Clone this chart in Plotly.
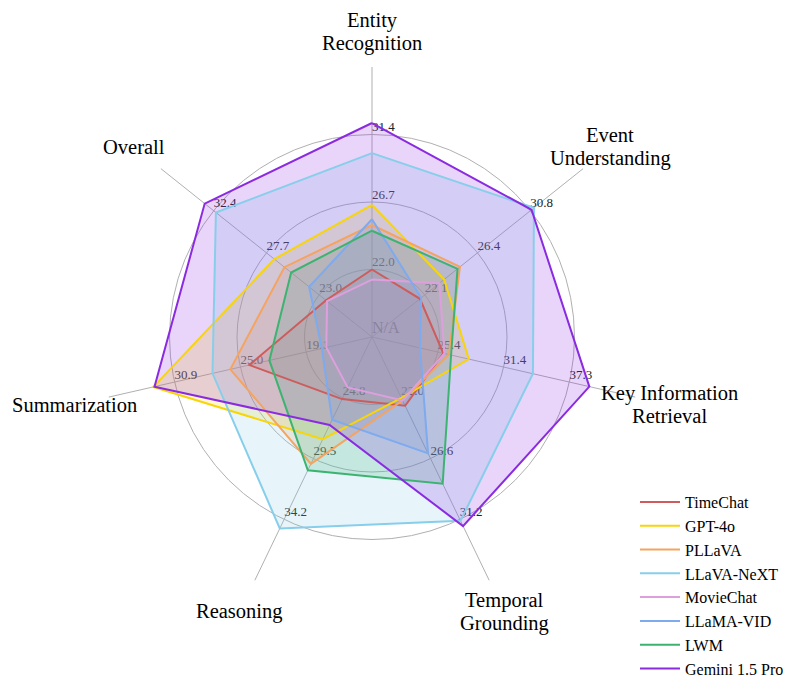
import math
import plotly.graph_objects as go

categories = ["Entity Recognition", "Event Understanding", "Key Information Retrieval",
              "Temporal Grounding", "Reasoning", "Summarization", "Overall"]
label_lines = [["Entity", "Recognition"], ["Event", "Understanding"], ["Key Information", "Retrieval"],
               ["Temporal", "Grounding"], ["Reasoning"], ["Summarization"], ["Overall"]]

# per-axis tick values (grid rings 1, 2, 3)
tick_er = [22.0, 26.7, 31.4]
tick_eu = [22.1, 26.4, 30.8]
tick_kir = [25.4, 31.4, 37.3]
tick_tg = [22.0, 26.6, 31.2]
tick_r = [24.8, 29.5, 34.2]
tick_s = [19.1, 25.0, 30.9]
tick_o = [23.0, 27.7, 32.4]
axis_ticks = [tick_er, tick_eu, tick_kir, tick_tg, tick_r, tick_s, tick_o]

models = ["TimeChat", "GPT-4o", "PLLaVA", "LLaVA-NeXT", "MovieChat", "LLaMA-VID", "LWM", "Gemini 1.5 Pro"]
timechat = [22.0, 21.7, 25.9, 22.6, 24.9, 24.2, 22.4]
gpt4o = [26.5, 23.7, 28.2, 22.0, 28.0, 32.8, 27.0]
pllava = [25.1, 25.0, 26.4, 22.2, 29.9, 25.9, 26.1]
llava_next = [30.1, 31.1, 34.0, 31.3, 34.9, 27.5, 32.2]
moviechat = [21.3, 23.3, 26.0, 22.2, 24.0, 17.3, 22.3]
llama_vid = [25.5, 21.8, 23.8, 26.2, 26.5, 17.7, 23.9]
lwm = [24.7, 24.8, 26.6, 28.5, 30.4, 22.4, 25.5]
gemini = [32.2, 30.9, 39.1, 31.7, 26.9, 32.7, 33.2]
series = [timechat, gpt4o, pllava, llava_next, moviechat, llama_vid, lwm, gemini]

colors = ["#CD5C5C", "#F8D508", "#F4A460", "#87CEEB", "#DDA0DD", "#7EAAEE", "#3CB371", "#8A2BE2"]

FONT = "Liberation Serif, Times New Roman, serif"


def to_r(vals):
    out = []
    for v, t in zip(vals, axis_ticks):
        step = (t[2] - t[0]) / 2.0
        v0 = t[0] - step
        out.append((v - v0) / step)
    return out


def rgba(hexc, a):
    h = hexc.lstrip("#")
    return "rgba(%d,%d,%d,%.2f)" % (int(h[0:2], 16), int(h[2:4], 16), int(h[4:6], 16), a)


fig = go.Figure()

# tick labels (drawn first, so fills sit above them)
tr, tt, tx = [], [], []
for cat, t in zip(categories, axis_ticks):
    for i, v in enumerate(t):
        tr.append(i + 1)
        tt.append(cat)
        tx.append("%.1f" % v)
fig.add_trace(go.Scatterpolar(r=tr, theta=tt, text=tx, mode="text", textposition="top right",
                              textfont=dict(family=FONT, size=13, color="#222"),
                              showlegend=False, hoverinfo="skip"))
fig.add_trace(go.Scatterpolar(r=[0], theta=[categories[0]], text=["N/A"], mode="text",
                              textposition="top right",
                              textfont=dict(family=FONT, size=16, color="#555"),
                              showlegend=False, hoverinfo="skip"))

# translucent fills first
for name, vals, c in zip(models, series, colors):
    r = to_r(vals)
    fig.add_trace(go.Scatterpolar(r=r, theta=categories, fill="toself", fillcolor=rgba(c, 0.2),
                                  mode="lines", line=dict(width=0, color=rgba(c, 0)),
                                  showlegend=False, hoverinfo="skip"))
# outlines on top
for name, vals, c in zip(models, series, colors):
    r = to_r(vals)
    fig.add_trace(go.Scatterpolar(r=r + [r[0]], theta=categories + [categories[0]], mode="lines",
                                  line=dict(color=c, width=2), name=name))

# the page body adds an 8px offset, so the figure is laid out 8px smaller
W, H = 797, 692
cx, cy, R = 364, 329, 270
dom_x = [(cx - R) / W, (cx + R) / W]
dom_y = [(H - cy - R) / H, (H - cy + R) / H]

annotations = []
n = len(categories)
LINE_H = 23
for k, lines in enumerate(label_lines):
    ang = math.radians(90 - k * 360.0 / n)
    rr = 305
    px = cx + rr * math.cos(ang)
    py = (H - cy) + rr * math.sin(ang)
    m = len(lines)
    for j, txt in enumerate(lines):
        off = ((m - 1) / 2.0 - j) * LINE_H
        annotations.append(dict(x=px / W, y=(py + off) / H, xref="paper", yref="paper", text=txt,
                                showarrow=False, xanchor="center", yanchor="middle",
                                font=dict(family=FONT, size=20.5, color="#000")))

fig.update_layout(
    width=W, height=H,
    margin=dict(l=0, r=0, t=0, b=0),
    paper_bgcolor="white",
    font=dict(family=FONT),
    polar=dict(
        domain=dict(x=dom_x, y=dom_y),
        bgcolor="rgba(0,0,0,0)",
        radialaxis=dict(range=[0, 4], tickvals=[1, 2, 3], showticklabels=False, ticks="",
                        showline=False, gridcolor="#b0b0b0", gridwidth=1),
        angularaxis=dict(type="category", direction="clockwise", rotation=90,
                         showticklabels=False, ticks="", showline=False,
                         gridcolor="#b0b0b0", gridwidth=1),
    ),
    legend=dict(x=627 / W, y=1 - 477 / H, xanchor="left", yanchor="top", itemwidth=40,
                font=dict(family=FONT, size=16, color="#000"), bgcolor="rgba(0,0,0,0)"),
    annotations=annotations,
)

fig.write_html("out.html")
